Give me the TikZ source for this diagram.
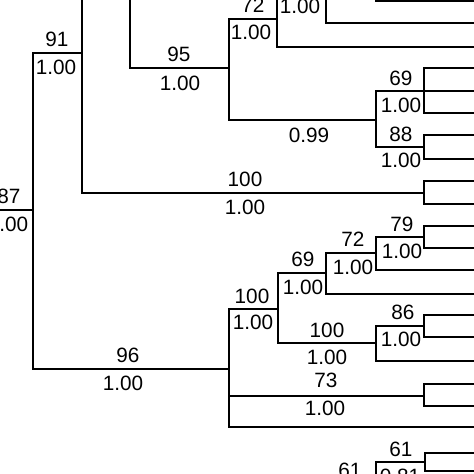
\documentclass[tikz,border=0pt]{standalone}
\usepackage{fontspec}
\setmainfont{Liberation Sans}
\begin{document}
\begin{tikzpicture}[x=0.02cm,y=-0.02cm,
  br/.style={line width=1.45pt},
  thickbr/.style={line width=2.2pt},
  lab/.style={inner sep=0pt, font=\fontsize{11.8}{14}\selectfont}]
\useasboundingbox (0,0) rectangle (474,474);
\clip (0,0) rectangle (474,474);
% internal nodes
\coordinate (R0) at (-10,210);
\coordinate (R) at (33,210);
\coordinate (A) at (82,53);
\coordinate (Aup) at (130,-87);
\coordinate (P) at (130,-30);
\coordinate (N95) at (229,68);
\coordinate (N72a) at (277,19);
\coordinate (Nt) at (326,-6);
\coordinate (Nk) at (375,0);
\coordinate (N099) at (376,120);
\coordinate (N69a) at (424,91);
\coordinate (N88) at (424,147);
\coordinate (N100a) at (424,193);
\coordinate (N96) at (229,369);
\coordinate (N100b) at (278,309);
\coordinate (N69b) at (326,273);
\coordinate (N72b) at (376,253);
\coordinate (N79) at (424,237);
\coordinate (N100c) at (376,343);
\coordinate (N86) at (424,326);
\coordinate (N73) at (424,396);
\coordinate (Q) at (326,484);
\coordinate (N61a) at (376,484);
\coordinate (N61b) at (425,462);
% tips
\foreach \n/\y in {k/0,23/23,47/47,68/68,91/91,113/113,135/135,159/159,181/181,204/204,
  226/226,248/248,270/270,294/294,315/315,337/337,361/361,384/384,406/406,427/427,453/453,471/471}
  \coordinate (t\n) at (480,\y);
% branches
\draw[br] (R0) -- (R);
\draw[br] (R) |- (A);
\draw[br] (R) |- (N96);
\draw[br] (A) |- (Aup);
\draw[br] (A) |- (N100a);
\draw[br] (P) |- (N95);
\draw[br] (N95) |- (N72a);
\draw[br] (N95) |- (N099);
\draw[br] (N72a) |- (Nt);
\draw[br] (N72a) |- (t47);
\draw[br] (Nt) |- (t23);
\draw[thickbr] (Nk) -- (tk);
\draw[br] (N099) |- (N69a);
\draw[br] (N099) |- (N88);
\draw[br] (N69a) |- (t68);
\draw[br] (N69a) |- (t91);
\draw[br] (N69a) |- (t113);
\draw[br] (N88) |- (t135);
\draw[br] (N88) |- (t159);
\draw[br] (N100a) |- (t181);
\draw[br] (N100a) |- (t204);
\draw[br] (N96) |- (N100b);
\draw[br] (N96) |- (N73);
\draw[br] (N96) |- (t427);
\draw[br] (N100b) |- (N69b);
\draw[br] (N100b) |- (N100c);
\draw[br] (N69b) |- (N72b);
\draw[br] (N69b) |- (t294);
\draw[br] (N72b) |- (N79);
\draw[br] (N72b) |- (t270);
\draw[br] (N79) |- (t226);
\draw[br] (N79) |- (t248);
\draw[br] (N100c) |- (N86);
\draw[br] (N100c) |- (t361);
\draw[br] (N86) |- (t315);
\draw[br] (N86) |- (t337);
\draw[br] (N73) |- (t384);
\draw[br] (N73) |- (t406);
\draw[br] (Q) -- (N61a);
\draw[br] (N61a) |- (N61b);
\draw[br] (N61b) |- (t453);
\draw[br] (N61b) |- (t471);
% labels
\node[lab] (l87a) at (9,196) {87};
\node[lab] (l87b) at (8,224) {1.00};
\node[lab] (l91a) at (57,39) {91};
\node[lab] (l91b) at (56,67) {1.00};
\node[lab] (l95a) at (179,54) {95};
\node[lab] (l95b) at (180,83) {1.00};
\node[lab] (l72aa) at (253,5) {72};
\node[lab] (l72ab) at (251,32) {1.00};
\node[lab] (ltop) at (300,6) {1.00};
\node[lab] (l099) at (309,135) {0.99};
\node[lab] (l69aa) at (401,78) {69};
\node[lab] (l69ab) at (401,105) {1.00};
\node[lab] (l88a) at (401,134) {88};
\node[lab] (l88b) at (401,160) {1.00};
\node[lab] (l100aa) at (245,179) {100};
\node[lab] (l100ab) at (245,207) {1.00};
\node[lab] (l79a) at (402,224) {79};
\node[lab] (l79b) at (402,251) {1.00};
\node[lab] (l72ba) at (353,239) {72};
\node[lab] (l72bb) at (353,267) {1.00};
\node[lab] (l69ba) at (303,259) {69};
\node[lab] (l69bb) at (303,287) {1.00};
\node[lab] (l100ba) at (252,296) {100};
\node[lab] (l100bb) at (253,322) {1.00};
\node[lab] (l86a) at (403,312) {86};
\node[lab] (l86b) at (401,339) {1.00};
\node[lab] (l100ca) at (327,330) {100};
\node[lab] (l100cb) at (327,357) {1.00};
\node[lab] (l96a) at (128,355) {96};
\node[lab] (l96b) at (123,383) {1.00};
\node[lab] (l73a) at (326,380) {73};
\node[lab] (l73b) at (325,408) {1.00};
\node[lab] (l61aa) at (401,449) {61};
\node[lab] (l61ab) at (400,476) {0.81};
\node[lab] (l61b) at (350,470) {61};
\end{tikzpicture}
\end{document}
